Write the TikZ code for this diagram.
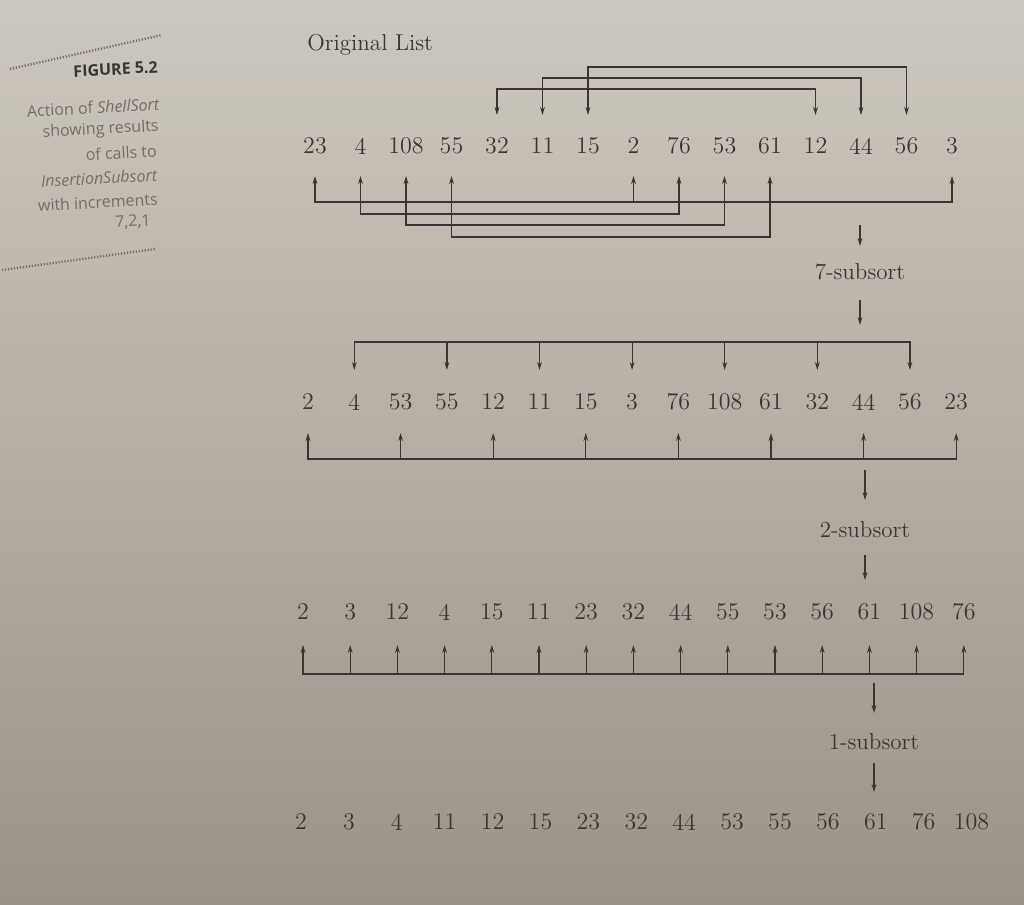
\documentclass[tikz,border=0pt]{standalone}
\usepackage{fontspec}
\newfontfamily\capfont{Open Sans}
\usetikzlibrary{arrows.meta}
\usetikzlibrary{calc}

\definecolor{paper}{RGB}{205,200,191}
\definecolor{paperdark}{RGB}{156,147,136}
\definecolor{ink}{RGB}{58,53,50}
\definecolor{capink}{RGB}{116,108,102}

\begin{document}
\begin{tikzpicture}[x=0.5pt,y=-0.5pt,
	num/.style={text=ink,font=\fontsize{12}{14}\selectfont,inner sep=0pt},
	lbl/.style={text=ink,font=\fontsize{11.5}{14}\selectfont,inner sep=0pt},
	captext/.style={text=capink,font=\capfont\fontsize{8}{9}\selectfont,anchor=east,inner sep=0pt,rotate=3},
	wire/.style={draw=ink,line width=0.6pt},
	rule/.style={draw=capink,line width=1.2pt,dash pattern=on 0.6pt off 0.9pt},
	>={Stealth[length=4pt,width=2.4pt]}]

	\shade[top color=paper,bottom color=paperdark] (0,0) rectangle (1024,905);
	\useasboundingbox (0,0) rectangle (1024,905);

	% caption
	\draw[rule] (10,69) -- (162,35);
	\node[captext,text=ink] (fig) at (158,67) {\bfseries FIGURE 5.2};
	\node[captext] (cap1) at (160,104) {Action of \textit{ShellSort}};
	\node[captext] (cap2) at (159,127) {showing results};
	\node[captext] (cap3) at (157,151) {of calls to};
	\node[captext] (cap4) at (158,175) {\textit{InsertionSubsort}};
	\node[captext] (cap5) at (158,199) {with increments};
	\node[captext] (cap6) at (151,221) {7,2,1};
	\draw[rule] (2,270) -- (155,249);

	% original list
	\node[lbl,anchor=west] (title) at (307,45) {Original List};
	\foreach \v [count=\i from 0] in {23,4,108,55,32,11,15,2,76,53,61,12,44,56,3}
		\node[num] (o\i) at ({315+45.5*\i},146) {\v};

	\draw[wire,<->] ($(o4)+(0,-31)$) |- ($(o11)+(0,-57)$) -- ($(o11)+(0,-31)$);
	\draw[wire,<->] ($(o5)+(0,-31)$) |- ($(o12)+(0,-68)$) -- ($(o12)+(0,-31)$);
	\draw[wire,<->] ($(o6)+(0,-31)$) |- ($(o13)+(0,-79)$) -- ($(o13)+(0,-31)$);

	\draw[wire,<->] ($(o0)+(0,30)$) |- ($(o14)+(0,56)$) -- ($(o14)+(0,30)$);
	\draw[wire,->] ($(o7)+(0,56)$) -- ($(o7)+(0,30)$);
	\draw[wire,<->] ($(o1)+(0,30)$) |- ($(o8)+(0,68)$) -- ($(o8)+(0,30)$);
	\draw[wire,<->] ($(o2)+(0,30)$) |- ($(o9)+(0,79)$) -- ($(o9)+(0,30)$);
	\draw[wire,<->] ($(o3)+(0,30)$) |- ($(o10)+(0,91)$) -- ($(o10)+(0,30)$);

	\node[lbl] (sub7) at (860,272) {7-subsort};
	\draw[wire,->] ($(sub7)+(0,-47)$) -- ($(sub7)+(0,-26)$);
	\draw[wire,->] ($(sub7)+(0,28)$) -- ($(sub7)+(0,53)$);

	% after 7-subsort
	\foreach \v [count=\i from 0] in {2,4,53,55,12,11,15,3,76,108,61,32,44,56,23}
		\node[num] (t\i) at ({308+46.3*\i},402) {\v};

	\draw[wire,<->] ($(t1)+(0,-32)$) |- ($(t13)+(0,-60)$) -- ($(t13)+(0,-32)$);
	\foreach \i in {3,5,...,11}
		\draw[wire,->] ($(t\i)+(0,-60)$) -- ($(t\i)+(0,-32)$);
	\draw[wire,<->] ($(t0)+(0,31)$) |- ($(t14)+(0,57)$) -- ($(t14)+(0,31)$);
	\foreach \i in {2,4,...,12}
		\draw[wire,->] ($(t\i)+(0,57)$) -- ($(t\i)+(0,31)$);

	\node[lbl] (sub2) at (865,530) {2-subsort};
	\draw[wire,->] ($(sub2)+(0,-60)$) -- ($(sub2)+(0,-30)$);
	\draw[wire,->] ($(sub2)+(0,25)$) -- ($(sub2)+(0,50)$);

	% after 2-subsort
	\foreach \v [count=\i from 0] in {2,3,12,4,15,11,23,32,44,55,53,56,61,108,76}
		\node[num] (w\i) at ({303+47.2*\i},612) {\v};

	\draw[wire,<->] ($(w0)+(0,33)$) |- ($(w14)+(0,62)$) -- ($(w14)+(0,33)$);
	\foreach \i in {1,...,13}
		\draw[wire,->] ($(w\i)+(0,62)$) -- ($(w\i)+(0,33)$);

	\node[lbl] (sub1) at (874,742) {1-subsort};
	\draw[wire,->] ($(sub1)+(0,-59)$) -- ($(sub1)+(0,-29)$);
	\draw[wire,->] ($(sub1)+(0,21)$) -- ($(sub1)+(0,50)$);

	% final list
	\foreach \v [count=\i from 0] in {2,3,4,11,12,15,23,32,44,53,55,56,61,76,108}
		\node[num] (f\i) at ({301+47.9*\i},822) {\v};
\end{tikzpicture}
\end{document}
